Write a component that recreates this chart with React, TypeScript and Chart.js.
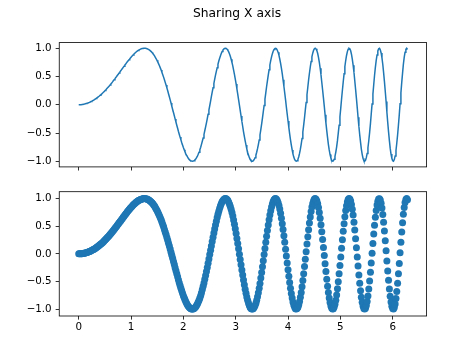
import React, { useEffect, useRef } from "react";
import { Chart, registerables } from "chart.js";

Chart.register(...registerables);

const titleText = "Sharing X axis";

const xValues: number[] = [
  0, 0.016, 0.031, 0.047, 0.063, 0.079, 0.094, 0.110, 0.126, 0.142,
  0.157, 0.173, 0.189, 0.205, 0.220, 0.236, 0.252, 0.268, 0.283, 0.299,
  0.315, 0.331, 0.346, 0.362, 0.378, 0.394, 0.409, 0.425, 0.441, 0.457,
  0.472, 0.488, 0.504, 0.520, 0.535, 0.551, 0.567, 0.583, 0.598, 0.614,
  0.630, 0.646, 0.661, 0.677, 0.693, 0.709, 0.724, 0.740, 0.756, 0.772,
  0.787, 0.803, 0.819, 0.835, 0.850, 0.866, 0.882, 0.898, 0.913, 0.929,
  0.945, 0.961, 0.976, 0.992, 1.008, 1.024, 1.039, 1.055, 1.071, 1.087,
  1.102, 1.118, 1.134, 1.150, 1.165, 1.181, 1.197, 1.213, 1.228, 1.244,
  1.260, 1.276, 1.291, 1.307, 1.323, 1.339, 1.354, 1.370, 1.386, 1.402,
  1.417, 1.433, 1.449, 1.464, 1.480, 1.496, 1.512, 1.527, 1.543, 1.559,
  1.575, 1.590, 1.606, 1.622, 1.638, 1.653, 1.669, 1.685, 1.701, 1.716,
  1.732, 1.748, 1.764, 1.779, 1.795, 1.811, 1.827, 1.842, 1.858, 1.874,
  1.890, 1.905, 1.921, 1.937, 1.953, 1.968, 1.984, 2.000, 2.016, 2.031,
  2.047, 2.063, 2.079, 2.094, 2.110, 2.126, 2.142, 2.157, 2.173, 2.189,
  2.205, 2.220, 2.236, 2.252, 2.268, 2.283, 2.299, 2.315, 2.331, 2.346,
  2.362, 2.378, 2.394, 2.409, 2.425, 2.441, 2.457, 2.472, 2.488, 2.504,
  2.520, 2.535, 2.551, 2.567, 2.583, 2.598, 2.614, 2.630, 2.646, 2.661,
  2.677, 2.693, 2.709, 2.724, 2.740, 2.756, 2.772, 2.787, 2.803, 2.819,
  2.835, 2.850, 2.866, 2.882, 2.897, 2.913, 2.929, 2.945, 2.960, 2.976,
  2.992, 3.008, 3.023, 3.039, 3.055, 3.071, 3.086, 3.102, 3.118, 3.134,
  3.149, 3.165, 3.181, 3.197, 3.212, 3.228, 3.244, 3.260, 3.275, 3.291,
  3.307, 3.323, 3.338, 3.354, 3.370, 3.386, 3.401, 3.417, 3.433, 3.449,
  3.464, 3.480, 3.496, 3.512, 3.527, 3.543, 3.559, 3.575, 3.590, 3.606,
  3.622, 3.638, 3.653, 3.669, 3.685, 3.701, 3.716, 3.732, 3.748, 3.764,
  3.779, 3.795, 3.811, 3.827, 3.842, 3.858, 3.874, 3.890, 3.905, 3.921,
  3.937, 3.953, 3.968, 3.984, 4.000, 4.016, 4.031, 4.047, 4.063, 4.079,
  4.094, 4.110, 4.126, 4.142, 4.157, 4.173, 4.189, 4.205, 4.220, 4.236,
  4.252, 4.268, 4.283, 4.299, 4.315, 4.330, 4.346, 4.362, 4.378, 4.393,
  4.409, 4.425, 4.441, 4.456, 4.472, 4.488, 4.504, 4.519, 4.535, 4.551,
  4.567, 4.582, 4.598, 4.614, 4.630, 4.645, 4.661, 4.677, 4.693, 4.708,
  4.724, 4.740, 4.756, 4.771, 4.787, 4.803, 4.819, 4.834, 4.850, 4.866,
  4.882, 4.897, 4.913, 4.929, 4.945, 4.960, 4.976, 4.992, 5.008, 5.023,
  5.039, 5.055, 5.071, 5.086, 5.102, 5.118, 5.134, 5.149, 5.165, 5.181,
  5.197, 5.212, 5.228, 5.244, 5.260, 5.275, 5.291, 5.307, 5.323, 5.338,
  5.354, 5.370, 5.386, 5.401, 5.417, 5.433, 5.449, 5.464, 5.480, 5.496,
  5.512, 5.527, 5.543, 5.559, 5.575, 5.590, 5.606, 5.622, 5.638, 5.653,
  5.669, 5.685, 5.701, 5.716, 5.732, 5.748, 5.763, 5.779, 5.795, 5.811,
  5.826, 5.842, 5.858, 5.874, 5.889, 5.905, 5.921, 5.937, 5.952, 5.968,
  5.984, 6.000, 6.015, 6.031, 6.047, 6.063, 6.078, 6.094, 6.110, 6.126,
  6.141, 6.157, 6.173, 6.189, 6.204, 6.220, 6.236, 6.252, 6.267, 6.283,
];

const yValues: number[] = [
  0, 0, 0.001, 0.002, 0.004, 0.006, 0.009, 0.012, 0.016, 0.020,
  0.025, 0.030, 0.036, 0.042, 0.049, 0.056, 0.063, 0.072, 0.080, 0.089,
  0.099, 0.109, 0.120, 0.131, 0.142, 0.154, 0.167, 0.180, 0.193, 0.207,
  0.221, 0.236, 0.251, 0.267, 0.283, 0.299, 0.316, 0.333, 0.350, 0.368,
  0.386, 0.405, 0.424, 0.443, 0.462, 0.481, 0.501, 0.521, 0.541, 0.561,
  0.581, 0.601, 0.621, 0.642, 0.662, 0.682, 0.702, 0.721, 0.741, 0.760,
  0.779, 0.797, 0.815, 0.833, 0.850, 0.866, 0.882, 0.897, 0.911, 0.925,
  0.938, 0.949, 0.960, 0.969, 0.977, 0.985, 0.990, 0.995, 0.998, 1.000,
  1.000, 0.998, 0.995, 0.991, 0.984, 0.976, 0.966, 0.954, 0.940, 0.924,
  0.906, 0.886, 0.864, 0.840, 0.814, 0.786, 0.755, 0.723, 0.689, 0.653,
  0.615, 0.575, 0.533, 0.489, 0.443, 0.396, 0.348, 0.298, 0.247, 0.194,
  0.141, 0.086, 0.031, -0.025, -0.081, -0.138, -0.194, -0.250, -0.306, -0.362,
  -0.416, -0.470, -0.522, -0.573, -0.622, -0.669, -0.714, -0.757, -0.796, -0.833,
  -0.867, -0.898, -0.924, -0.947, -0.967, -0.981, -0.992, -0.998, -1.000, -0.997,
  -0.989, -0.976, -0.959, -0.936, -0.909, -0.877, -0.840, -0.798, -0.752, -0.702,
  -0.647, -0.588, -0.526, -0.460, -0.391, -0.320, -0.246, -0.170, -0.093, -0.014,
  0.065, 0.144, 0.223, 0.301, 0.377, 0.451, 0.523, 0.591, 0.656, 0.717,
  0.773, 0.824, 0.869, 0.908, 0.941, 0.967, 0.985, 0.996, 1.000, 0.996,
  0.984, 0.964, 0.936, 0.900, 0.857, 0.806, 0.748, 0.684, 0.613, 0.537,
  0.455, 0.369, 0.280, 0.187, 0.092, -0.005, -0.101, -0.198, -0.293, -0.385,
  -0.475, -0.560, -0.639, -0.713, -0.781, -0.840, -0.891, -0.932, -0.965, -0.987,
  -0.998, -0.999, -0.989, -0.968, -0.936, -0.893, -0.840, -0.777, -0.704, -0.623,
  -0.535, -0.439, -0.338, -0.233, -0.124, -0.013, 0.099, 0.210, 0.319, 0.424,
  0.524, 0.618, 0.704, 0.781, 0.848, 0.904, 0.947, 0.978, 0.996, 1.000,
  0.989, 0.965, 0.927, 0.875, 0.810, 0.733, 0.645, 0.547, 0.441, 0.327,
  0.208, 0.085, -0.040, -0.164, -0.287, -0.405, -0.517, -0.622, -0.716, -0.799,
  -0.870, -0.926, -0.967, -0.992, -1.000, -0.991, -0.965, -0.921, -0.862, -0.787,
  -0.698, -0.596, -0.482, -0.360, -0.230, -0.096, 0.040, 0.177, 0.310, 0.438,
  0.558, 0.668, 0.765, 0.847, 0.913, 0.962, 0.991, 1.000, 0.989, 0.958,
  0.907, 0.837, 0.750, 0.646, 0.529, 0.399, 0.261, 0.117, -0.030, -0.177,
  -0.321, -0.458, -0.585, -0.700, -0.799, -0.881, -0.942, -0.982, -0.999, -0.993,
  -0.964, -0.912, -0.838, -0.744, -0.631, -0.503, -0.362, -0.212, -0.056, 0.102,
  0.257, 0.407, 0.547, 0.673, 0.783, 0.872, 0.940, 0.983, 1.000, 0.991,
  0.955, 0.894, 0.808, 0.701, 0.574, 0.430, 0.275, 0.112, -0.056, -0.222,
  -0.382, -0.532, -0.667, -0.784, -0.877, -0.946, -0.988, -1.000, -0.983, -0.936,
  -0.862, -0.761, -0.637, -0.493, -0.334, -0.164, 0.012, 0.188, 0.358, 0.517,
  0.661, 0.784, 0.882, 0.952, 0.992, 0.999, 0.973, 0.916, 0.828, 0.712,
  0.572, 0.413, 0.239, 0.057, -0.128, -0.309, -0.480, -0.635, -0.768, -0.873,
  -0.949, -0.991, -0.998, -0.970, -0.906, -0.809, -0.682, -0.531, -0.359, -0.174,
  0.018, 0.211, 0.395, 0.565, 0.715, 0.837, 0.928, 0.983, 1.000, 0.978,
];

const xTicks = [0, 1, 2, 3, 4, 5, 6];
const yTicks = [-1, -0.5, 0, 0.5, 1];

const BLUE = "#1f77b4";
const W = 474;
const H = 355;
const FONT = "DejaVu Sans";

const framePlugin = {
  id: "frame",
  afterDraw(chart: any, _args: any, opts: any) {
    const { ctx, chartArea } = chart;
    ctx.save();
    ctx.strokeStyle = "#000";
    ctx.lineWidth = 0.8;
    ctx.strokeRect(chartArea.left, chartArea.top, chartArea.right - chartArea.left, chartArea.bottom - chartArea.top);
    if (opts && opts.title) {
      ctx.fillStyle = "#000";
      ctx.font = `12.3px "${FONT}"`;
      ctx.textAlign = "center";
      ctx.textBaseline = "middle";
      ctx.fillText(opts.title, W / 2, 13.5);
    }
    ctx.restore();
  },
};

function fmt(v: number) {
  return v.toFixed(1).replace("-", "\u2212");
}

function makeOptions(top: number, bottom: number, yLim: number, showX: boolean, title?: string) {
  return {
    responsive: false,
    animation: false as const,
    devicePixelRatio: 1,
    layout: {
      padding: { left: 59.25 - 50, right: W - 426.6, top, bottom: H - bottom - 30 },
    },
    plugins: {
      legend: { display: false },
      tooltip: { enabled: false },
      title: { display: false },
      frame: { title },
    },
    scales: {
      x: {
        type: "linear" as const,
        min: -0.372,
        max: 6.648,
        afterBuildTicks: (s: any) => {
          s.ticks = xTicks.map((v) => ({ value: v }));
        },
        afterFit: (s: any) => {
          s.height = 30;
        },
        grid: { drawOnChartArea: false, drawTicks: true, tickLength: 3.6, color: "#000", lineWidth: 0.8 },
        border: { display: false },
        ticks: {
          display: showX,
          padding: 2,
          color: "#000",
          font: { family: FONT, size: 10.3 },
          maxRotation: 0,
          callback: (v: any) => String(v),
        },
      },
      y: {
        type: "linear" as const,
        min: -yLim,
        max: yLim,
        afterBuildTicks: (s: any) => {
          s.ticks = yTicks.map((v) => ({ value: v }));
        },
        afterFit: (s: any) => {
          s.width = 50;
        },
        grid: { drawOnChartArea: false, drawTicks: true, tickLength: 3.6, color: "#000", lineWidth: 0.8 },
        border: { display: false },
        ticks: {
          padding: 4,
          color: "#000",
          font: { family: FONT, size: 10.3 },
          callback: (v: any) => fmt(Number(v)),
        },
      },
    },
  };
}

const points = xValues.map((x, i) => ({ x, y: yValues[i] }));

export default function App() {
  const topRef = useRef<HTMLCanvasElement>(null);
  const botRef = useRef<HTMLCanvasElement>(null);

  useEffect(() => {
    const c1 = new Chart(topRef.current!, {
      type: "line",
      data: {
        datasets: [
          {
            data: points,
            borderColor: BLUE,
            borderWidth: 1.5,
            pointRadius: 0,
            tension: 0,
            fill: false,
          },
        ],
      },
      options: makeOptions(42.6, 166.9, 1.1, false, titleText) as any,
      plugins: [framePlugin],
    });
    const c2 = new Chart(botRef.current!, {
      type: "scatter",
      data: {
        datasets: [
          {
            data: points,
            backgroundColor: BLUE,
            borderColor: BLUE,
            borderWidth: 0,
            pointRadius: 3.5,
            pointHoverRadius: 3.5,
          },
        ],
      },
      options: makeOptions(191.7, 316.0, 1.125, true) as any,
      plugins: [framePlugin],
    });
    return () => {
      c1.destroy();
      c2.destroy();
    };
  }, []);

  return (
    <div style={{ position: "absolute", left: 0, top: 0, width: W, height: H, background: "#fff" }}>
      <canvas ref={topRef} width={W} height={H} style={{ position: "absolute", left: 0, top: 0 }} />
      <canvas ref={botRef} width={W} height={H} style={{ position: "absolute", left: 0, top: 0 }} />
    </div>
  );
}
